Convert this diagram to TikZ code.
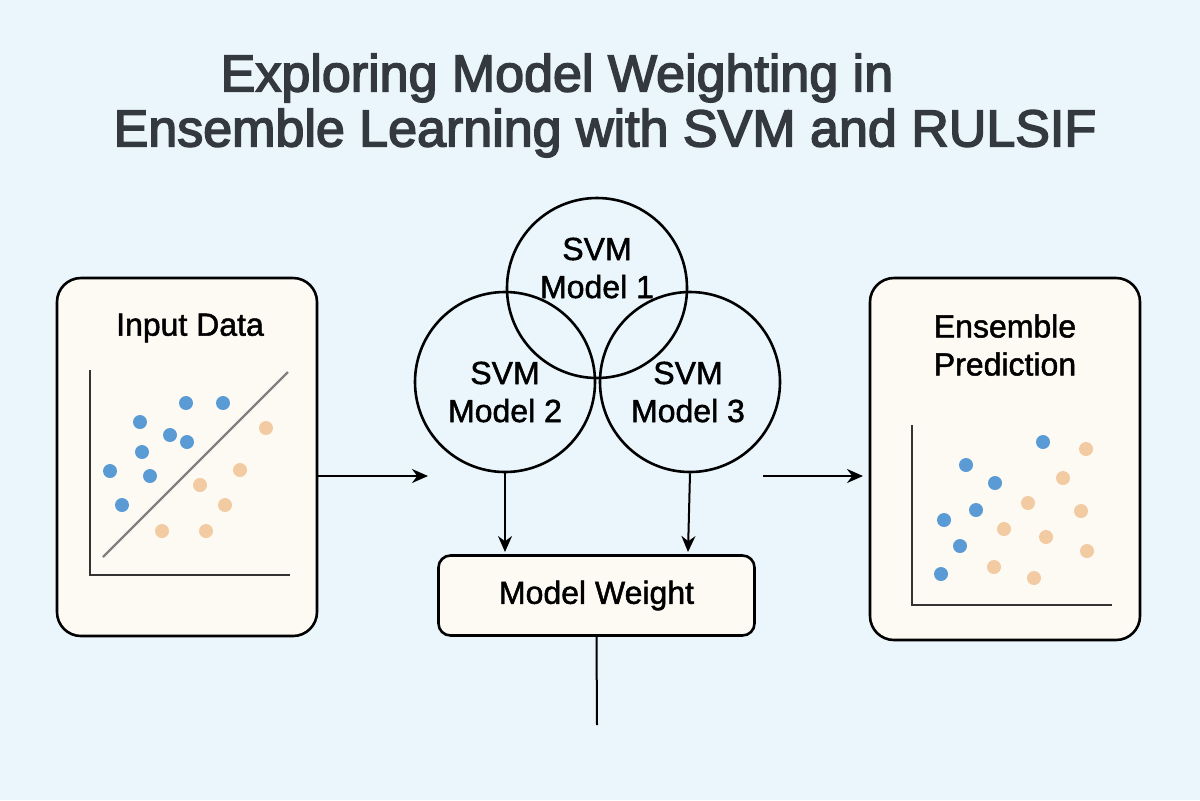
\documentclass[tikz,border=0pt]{standalone}
\usepackage{fontspec}
\setmainfont{Liberation Sans}
\newfontfamily\medf[FakeBold=1.5]{Liberation Sans}
\newfontfamily\ttlf[FakeBold=3]{Liberation Sans}
\usetikzlibrary{arrows.meta}
\definecolor{bg}{HTML}{EAF5FC}
\definecolor{cream}{HTML}{FDFAF3}
\definecolor{bdot}{HTML}{5A9BD6}
\definecolor{odot}{HTML}{F3CBA3}
\definecolor{ttl}{HTML}{33393F}
\begin{document}
\begin{tikzpicture}[x=0.5pt,y=-0.5pt,
  box/.style={draw=black,line width=1.3pt,fill=cream,rounded corners=12pt},
  circ/.style={draw=black,line width=1.3pt,circle,minimum size=90pt},
  lbl/.style={align=center,font=\medf\fontsize{16}{19}\selectfont},
  arr/.style={-{Stealth[length=8pt,width=7pt]},line width=1pt},
  ax/.style={line width=1pt,black!80},
  bd/.style={circle,fill=bdot,inner sep=0pt,minimum size=7pt},
  od/.style={circle,fill=odot,inner sep=0pt,minimum size=7pt}]
\fill[bg] (0,0) rectangle (1200,800);
\useasboundingbox (0,0) rectangle (1200,800);
\node[font=\ttlf\fontsize{26}{30}\selectfont,text=ttl] (t1) at (557,78) {Exploring Model Weighting in};
\node[font=\ttlf\fontsize{26}{30}\selectfont,text=ttl] (t2) at (605,133) {Ensemble Learning with SVM and RULSIF};
% left box
\draw[box] (57,278) rectangle (317,636);
\node[lbl] (in) at (190,328) {Input Data};
\draw[ax] (90,370) -- (90,575) -- (290,575);
\draw[line width=1.2pt,gray] (103,557) -- (288,372);
\foreach \p in {(140,422),(186,403),(223,403),(170,435),(142,452),(110,471),(150,476),(122,505),(187,442)} \node[bd] at \p {};
\foreach \p in {(266,428),(240,470),(200,485),(225,505),(162,531),(206,531)} \node[od] at \p {};
\coordinate (la) at (318,476);
\coordinate (lb) at (428,476);
\draw[arr] (la) -- (lb);
% circles
\node[circ] (m1) at (597,288) {};
\node[circ] (m2) at (505,382) {};
\node[circ] (m3) at (690,382) {};
\node[lbl] (l1) at (597,268) {SVM\\Model 1};
\node[lbl] (l2) at (505,392) {SVM\\Model 2};
\node[lbl] (l3) at (688,392) {SVM\\Model 3};
\node[draw=black,line width=1.3pt,fill=cream,rounded corners=6pt,minimum width=158pt,minimum height=40pt,font=\medf\fontsize{16}{19}\selectfont] (mw) at (596.5,595.5) {Model Weight};
\draw[arr] (m2.south) -- (505,552);
\draw[arr] (m3.south) -- (688,552);
\coordinate (end) at (597,725);
\draw[line width=1pt] (mw.south) -- (end);
\coordinate (ra) at (763,476);
\coordinate (rb) at (863,476);
\draw[arr] (ra) -- (rb);
% right box
\draw[box] (870,278) rectangle (1140,640);
\node[lbl] (ep) at (1005,345) {Ensemble\\Prediction};
\draw[ax] (912,425) -- (912,605) -- (1112,605);
\foreach \p in {(1043,442),(966,465),(995,483),(976,510),(944,520),(960,546),(941,574)} \node[bd] at \p {};
\foreach \p in {(1086,449),(1063,478),(1028,503),(1081,511),(1004,529),(1046,537),(1087,551),(994,567),(1034,578)} \node[od] at \p {};
\end{tikzpicture}
\end{document}
